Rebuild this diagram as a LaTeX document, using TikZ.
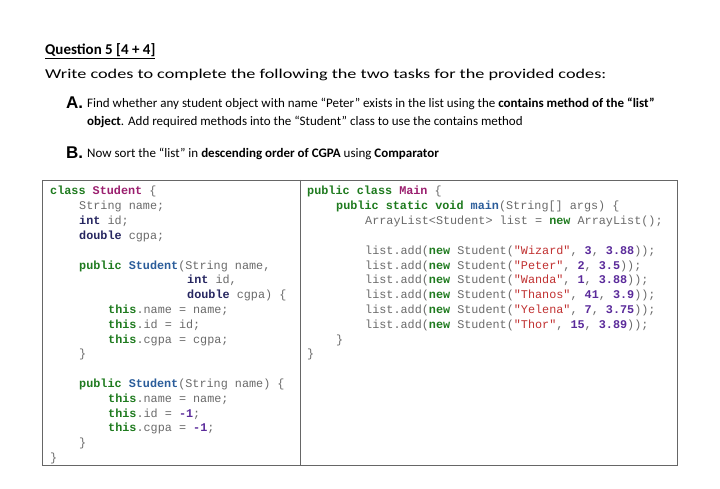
\documentclass[tikz,border=0pt]{standalone}
\usepackage{fontspec}
\setmainfont{Carlito}
\setmonofont{Liberation Mono}
\newfontfamily\arialf{Liberation Sans}
\usepackage{xcolor}
\usepackage{graphicx}
\definecolor{kwc}{HTML}{1E7A1E}
\definecolor{cnc}{HTML}{9A1E6E}
\definecolor{fnc}{HTML}{2A5C9A}
\definecolor{tyc}{HTML}{262660}
\definecolor{stc}{HTML}{C03030}
\definecolor{nmc}{HTML}{5A2A9A}
\definecolor{plc}{HTML}{6A6A6A}
\newcommand{\kw}[1]{\textcolor{kwc}{\bfseries #1}}
\newcommand{\cn}[1]{\textcolor{cnc}{\bfseries #1}}
\newcommand{\fn}[1]{\textcolor{fnc}{\bfseries #1}}
\newcommand{\ty}[1]{\textcolor{tyc}{\bfseries #1}}
\newcommand{\sq}[1]{\textcolor{stc}{#1}}
\newcommand{\nm}[1]{\textcolor{nmc}{\bfseries #1}}
\begin{document}
\begin{tikzpicture}[x=1pt,y=-1pt,
  txt/.style={anchor=base west,inner sep=0pt,font=\fontsize{13}{15}\selectfont},
  lab/.style={anchor=base west,inner sep=0pt,font=\arialf\bfseries\fontsize{17}{20}\selectfont},
  cd/.style={anchor=base west,inner sep=0pt,font=\ttfamily\fontsize{11.8}{14}\selectfont,text=plc}]
\useasboundingbox (0,0) rectangle (720,489);
\node[txt,font=\bfseries\fontsize{15}{17}\selectfont] (t) at (45,55) {\underline{Question 5 [4 + 4]}};
\node[txt,font=\fontsize{13.5}{16}\selectfont] (w) at (45,79) {\scalebox{1.35}[1]{Write codes to complete the following the two tasks for the provided codes:}};
\node[lab] (a) at (66,109) {A.};
\node[txt] (a1) at (87,108) {Find whether any student object with name “Peter” exists in the list using the \textbf{contains method of the “list”}};
\node[txt] (a2) at (87,126) {\textbf{object}. Add required methods into the “Student” class to use the contains method};
\node[lab] (b) at (66,159) {B.};
\node[txt] (b1) at (87,158) {Now sort the “list” in \textbf{descending order of CGPA} using \textbf{Comparator}};
\draw[gray!80!black,line width=0.8pt] (42,180) rectangle (677,465);
\draw[gray!80!black,line width=0.8pt] (300,180) -- (300,465);
\foreach \i/\x/\t in {
0/50/{\kw{class} \cn{Student} \{},
1/79/{String name;},
2/79/{\ty{int} id;},
3/79/{\ty{double} cgpa;},
5/79/{\kw{public} \fn{Student}(String name,},
6/187/{\ty{int} id,},
7/187/{\ty{double} cgpa) \{},
8/108/{\kw{this}.name = name;},
9/108/{\kw{this}.id = id;},
10/108/{\kw{this}.cgpa = cgpa;},
11/79/{\}},
13/79/{\kw{public} \fn{Student}(String name) \{},
14/108/{\kw{this}.name = name;},
15/108/{\kw{this}.id = \nm{-1};},
16/108/{\kw{this}.cgpa = \nm{-1};},
17/79/{\}},
18/50/{\}}}
  \node[cd] (l\i) at (\x,195+14.8*\i) {\t};
\foreach \i/\x/\t in {
0/307/{\kw{public class} \cn{Main} \{},
1/336/{\kw{public static void} \fn{main}(String[] args) \{},
2/365/{ArrayList<Student> list = \kw{new} ArrayList();},
4/365/{list.add(\kw{new} Student(\sq{"Wizard"}, \nm{3}, \nm{3.88}));},
5/365/{list.add(\kw{new} Student(\sq{"Peter"}, \nm{2}, \nm{3.5}));},
6/365/{list.add(\kw{new} Student(\sq{"Wanda"}, \nm{1}, \nm{3.88}));},
7/365/{list.add(\kw{new} Student(\sq{"Thanos"}, \nm{41}, \nm{3.9}));},
8/365/{list.add(\kw{new} Student(\sq{"Yelena"}, \nm{7}, \nm{3.75}));},
9/365/{list.add(\kw{new} Student(\sq{"Thor"}, \nm{15}, \nm{3.89}));},
10/336/{\}},
11/307/{\}}}
  \node[cd] (r\i) at (\x,195+14.8*\i) {\t};
\end{tikzpicture}
\end{document}
